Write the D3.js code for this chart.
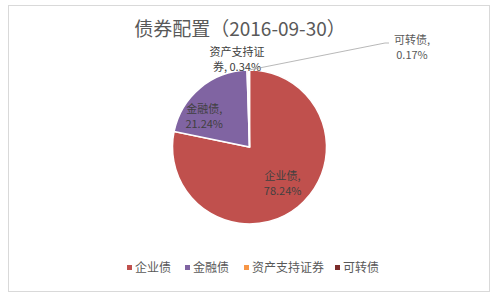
<!DOCTYPE html>
<html lang="zh">
<head>
    <meta charset="UTF-8">
    <title>债券配置</title>
    <script src="https://cdn.jsdelivr.net/npm/d3@7"></script>
    <style>
        body { margin: 0; background: #fff; }
        text { font-family: "Noto Sans CJK SC", "DejaVu Sans", sans-serif; }
    </style>
</head>
<body>
<script>
    // 数据
    const categories = ['企业债', '金融债', '资产支持证券', '可转债'];
    const values = [78.24, 21.24, 0.34, 0.17];
    const colors = ['#C0504D', '#8064A2', '#F79646', '#7B2C2A'];
    const title = '债券配置（2016-09-30）';

    const w = 500, h = 300;
    const cx = 249.5, cy = 147, r = 77;

    const svg = d3.select('body').append('svg')
        .attr('width', w)
        .attr('height', h);

    // 外框
    svg.append('rect')
        .attr('x', 8.5).attr('y', 5.5)
        .attr('width', 481).attr('height', 286)
        .attr('fill', '#fff')
        .attr('stroke', '#d9d9d9');

    svg.append('text')
        .attr('x', 240).attr('y', 36)
        .attr('text-anchor', 'middle')
        .attr('font-size', '19px')
        .attr('fill', '#595959')
        .text(title);

    const pie = d3.pie().sort(null).value(d => d.v);
    const arcs = pie(categories.map((c, i) => ({ c, v: values[i], i })));
    const arc = d3.arc().innerRadius(0).outerRadius(r);

    const g = svg.append('g').attr('transform', `translate(${cx},${cy})`);
    g.selectAll('path')
        .data(arcs)
        .enter()
        .append('path')
        .attr('d', arc)
        .attr('fill', d => colors[d.data.i])
        .attr('stroke', '#fff')
        .attr('stroke-width', 1.5);

    const fmt = v => v.toFixed(2) + '%';

    // 两行文字，分成两个 text 元素
    function label(parent, x, y, l1, l2, fill) {
        [l1, l2].forEach((s, j) => {
            parent.append('text')
                .attr('x', x).attr('y', y + j * 14.5)
                .attr('text-anchor', 'middle')
                .attr('font-size', '11px')
                .attr('fill', fill)
                .text(s);
        });
    }

    // 扇区内标签
    const inside = [
        { k: 0, rr: 0.64, da: 0, dx: 2, dy: -5 },
        { k: 1, rr: 0.74, da: -0.22, dx: 0, dy: 1 }
    ];
    inside.forEach(o => {
        const a = arcs[o.k];
        const mid = (a.startAngle + a.endAngle) / 2 + o.da;
        const x = Math.sin(mid) * r * o.rr + o.dx;
        const y = -Math.cos(mid) * r * o.rr + o.dy;
        label(g, x, y, categories[o.k] + ',', fmt(values[o.k]), '#404040');
    });

    // 资产支持证券 标签
    label(svg, 237, 56, categories[2].slice(0, 5), categories[2].slice(5) + ', ' + fmt(values[2]), '#404040');

    // 可转债 标签 + 引导线
    const a3 = arcs[3];
    const m3 = (a3.startAngle + a3.endAngle) / 2;
    const p0 = [cx + Math.sin(m3) * r, cy - Math.cos(m3) * r];
    svg.append('polyline')
        .attr('points', [p0, [385, 43], [389, 43]].map(p => p.join(',')).join(' '))
        .attr('fill', 'none')
        .attr('stroke', '#a6a6a6')
        .attr('stroke-width', 0.8);
    label(svg, 412, 44, categories[3] + ',', fmt(values[3]), '#595959');

    // 图例
    const legendPos = [127, 185, 244, 335];
    const lg = svg.append('g').selectAll('g')
        .data(categories)
        .enter()
        .append('g')
        .attr('transform', (d, i) => `translate(${legendPos[i]},268)`);
    lg.append('rect')
        .attr('x', 0).attr('y', -3)
        .attr('width', 5).attr('height', 5)
        .attr('fill', (d, i) => colors[i]);
    lg.append('text')
        .attr('x', 8).attr('y', 4)
        .attr('font-size', '12px')
        .attr('fill', '#595959')
        .text(d => d);
</script>
</body>
</html>
